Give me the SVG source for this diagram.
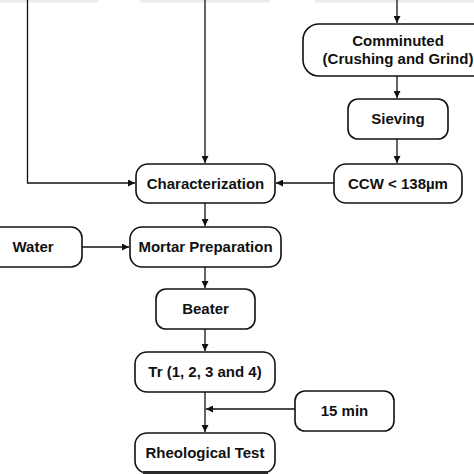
<svg xmlns="http://www.w3.org/2000/svg" width="474" height="474" viewBox="0 0 474 474">
<style>
.box{fill:#fff;stroke:#111;stroke-width:1.6}
.t{font-family:"Liberation Sans",Arial,sans-serif;font-weight:bold;font-size:15px;fill:#111;text-anchor:middle}
.c{fill:none;stroke:#111;stroke-width:1.3}
</style>
<defs>
<marker id="ah" viewBox="0 0 8 8" refX="8" refY="4" markerWidth="7" markerHeight="7" markerUnits="userSpaceOnUse" orient="auto">
<path d="M0,0 L8,4 L0,8 Z" fill="#111"/>
</marker>
</defs>
<rect width="474" height="474" fill="#fff"/>
<g id="edges-top" fill="#e8ecf1">
<rect x="0" y="0" width="98" height="2.5"/>
<rect x="140" y="0" width="130" height="2.5"/>
<rect x="315" y="0" width="159" height="2.5"/>
</g>
<g id="connectors">
<path class="c" d="M27.5,0 V183 H135" marker-end="url(#ah)"/>
<path class="c" d="M205,0 V163" marker-end="url(#ah)"/>
<path class="c" d="M397,0 V23" marker-end="url(#ah)"/>
<path class="c" d="M397,76 V98" marker-end="url(#ah)"/>
<path class="c" d="M397,139 V163" marker-end="url(#ah)"/>
<path class="c" d="M334,183 H276" marker-end="url(#ah)"/>
<path class="c" d="M205,203 V226" marker-end="url(#ah)"/>
<path class="c" d="M82,247 H129" marker-end="url(#ah)"/>
<path class="c" d="M205,267 V288" marker-end="url(#ah)"/>
<path class="c" d="M205,329 V351" marker-end="url(#ah)"/>
<path class="c" d="M205,392 V432" marker-end="url(#ah)"/>
<path class="c" d="M295,409 H206" marker-end="url(#ah)"/>
</g>
<g id="comminuted">
<rect class="box" x="303" y="24" width="190" height="52" rx="16"/>
<text class="t" x="398" y="46">Comminuted</text>
<text class="t" x="398" y="64">(Crushing and Grind)</text>
</g>
<g id="sieving">
<rect class="box" x="348" y="99" width="100" height="40" rx="10"/>
<text class="t" x="398" y="124">Sieving</text>
</g>
<g id="characterization">
<rect class="box" x="136" y="164" width="139" height="39" rx="12"/>
<text class="t" x="205.5" y="188.5">Characterization</text>
</g>
<g id="ccw">
<rect class="box" x="334" y="164" width="128" height="39" rx="12"/>
<text class="t" x="398" y="188.5">CCW &lt; 138µm</text>
</g>
<g id="water">
<rect class="box" x="-16" y="227" width="98" height="40" rx="11"/>
<text class="t" x="33" y="252">Water</text>
</g>
<g id="mortar">
<rect class="box" x="130" y="227" width="151" height="40" rx="12"/>
<text class="t" x="205.5" y="252">Mortar Preparation</text>
</g>
<g id="beater">
<rect class="box" x="156" y="289" width="99" height="40" rx="10"/>
<text class="t" x="205.5" y="314">Beater</text>
</g>
<g id="tr">
<rect class="box" x="135" y="352" width="140" height="40" rx="12"/>
<text class="t" x="205" y="377">Tr (1, 2, 3 and 4)</text>
</g>
<g id="min15">
<rect class="box" x="295" y="391" width="99" height="40" rx="10"/>
<text class="t" x="344.5" y="416">15 min</text>
</g>
<g id="rheological">
<rect class="box" x="135" y="433" width="140" height="40" rx="12"/>
<text class="t" x="205" y="458">Rheological Test</text>
</g>
<rect x="143" y="471" width="125" height="3" fill="#2a2a2a"/>
</svg>
